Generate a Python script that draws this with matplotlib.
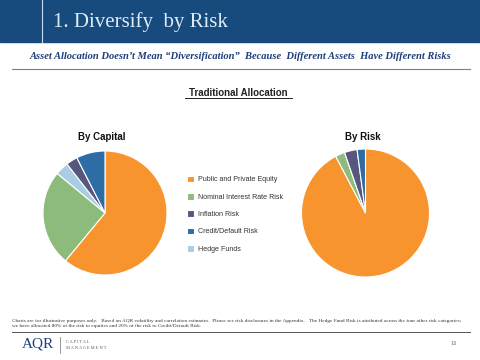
import matplotlib.pyplot as plt
from matplotlib.lines import Line2D
from matplotlib.patches import Rectangle

# slice order (clockwise from 12 o'clock)
labels = ['Public and Private Equity', 'Nominal Interest Rate Risk', 'Hedge Funds',
          'Inflation Risk', 'Credit/Default Risk']
by_capital = [61, 25, 3.5, 3, 7.5]
by_risk = [92.3, 2.4, 0, 3.2, 2.1]
colors = ['#F7942E', '#8DBB7C', '#A9CDE5', '#56567F', '#2E6CA5']
legend_order = [0, 1, 3, 4, 2]

title = '1. Diversify  by Risk'
subtitle = 'Asset Allocation Doesn\u2019t Mean \u201cDiversification\u201d  Because  Different Assets  Have Different Risks'
footnote1 = ('Charts are for illustrative purposes only.   Based on AQR volatility and correlation estimates.  '
             'Please see risk disclosures in the Appendix.   The Hedge Fund Risk is attributed across the four other risk categories;')
footnote2 = 'we have allocated 80% of the risk to equities and 20% of the risk to Credit/Default Risk.'

W, H = 480, 360
fig = plt.figure(figsize=(4.8, 3.6), dpi=100)
fig.patch.set_facecolor('white')

def fx(px):
    return px / W

def fy(py):
    return 1 - py / H

navy = '#1F3F7A'

# header band
fig.add_artist(Rectangle((0, fy(42)), 1, 42 / H, transform=fig.transFigure, color='#174B7D', zorder=0))
fig.add_artist(Line2D([fx(42), fx(42)], [fy(0), fy(42)], transform=fig.transFigure, color='#C8DCEF', lw=0.8))
fig.text(fx(53), fy(27), title, fontsize=15, family='Liberation Serif', color='#DDEBF7', va='baseline')

fig.text(fx(240), fy(59), subtitle, fontsize=7.6, family='Liberation Serif', style='italic',
         weight='bold', color=navy, ha='center', va='baseline')
fig.add_artist(Line2D([fx(12), fx(470)], [fy(69), fy(69)], transform=fig.transFigure, color='#7F7F7F', lw=0.8))

# chart heading
fig.text(fx(238.5), fy(96), 'Traditional Allocation', fontsize=7, family='Liberation Sans', weight='bold',
         color='#222222', ha='center', va='baseline')
fig.add_artist(Line2D([fx(185), fx(292)], [fy(98), fy(98)], transform=fig.transFigure, color='#222222', lw=0.7))

# pies
def draw_pie(cx, cy, r, values, name):
    ax = fig.add_axes([fx(cx - r), fy(cy + r), 2 * r / W, 2 * r / H])
    wedges, _ = ax.pie(values, colors=colors, startangle=90, counterclock=False,
                       wedgeprops=dict(edgecolor='white', linewidth=0.8))
    ax.set_xlim(-1, 1)
    ax.set_ylim(-1, 1)
    ax.set_aspect('equal')
    ax.axis('off')
    fig.text(fx(cx - 3), fy(140), name, fontsize=7, family='Liberation Sans', weight='bold',
             color='#111111', ha='center', va='baseline')
    return wedges

wedges = draw_pie(105, 213, 62, by_capital, 'By Capital')
draw_pie(365.5, 213, 64, by_risk, 'By Risk')

handles = [wedges[i] for i in legend_order]
leg_labels = [labels[i] for i in legend_order]
fig.legend(handles, leg_labels, loc='upper left', bbox_to_anchor=(fx(183), fy(172)),
           frameon=False, prop={'family': 'Liberation Sans', 'size': 5.1},
           handlelength=1.1, handleheight=1.1, handletextpad=0.5, labelspacing=1.35,
           borderpad=0, labelcolor='#333333')

# footer
fig.text(fx(12), fy(322), footnote1, fontsize=3.8, family='Liberation Serif', color='#333333', va='baseline')
fig.text(fx(12), fy(327), footnote2, fontsize=3.8, family='Liberation Serif', color='#333333', va='baseline')
fig.add_artist(Line2D([fx(12), fx(470)], [fy(332), fy(332)], transform=fig.transFigure, color='#555555', lw=0.7))
fig.text(fx(22), fy(348), 'AQR', fontsize=11, family='Liberation Serif', color=navy, va='baseline')
fig.add_artist(Line2D([fx(60), fx(60)], [fy(337), fy(353)], transform=fig.transFigure, color='#888888', lw=0.6))
fig.text(fx(66), fy(343), 'C A P I T A L', fontsize=3.2, family='Liberation Serif', color='#555566', va='baseline')
fig.text(fx(66), fy(349), 'M A N A G E M E N T', fontsize=3.2, family='Liberation Serif', color='#555566', va='baseline')
fig.text(fx(450), fy(345), '11', fontsize=5, family='Liberation Serif', color='#555555', va='baseline')

fig.savefig('out.png', dpi=100)
